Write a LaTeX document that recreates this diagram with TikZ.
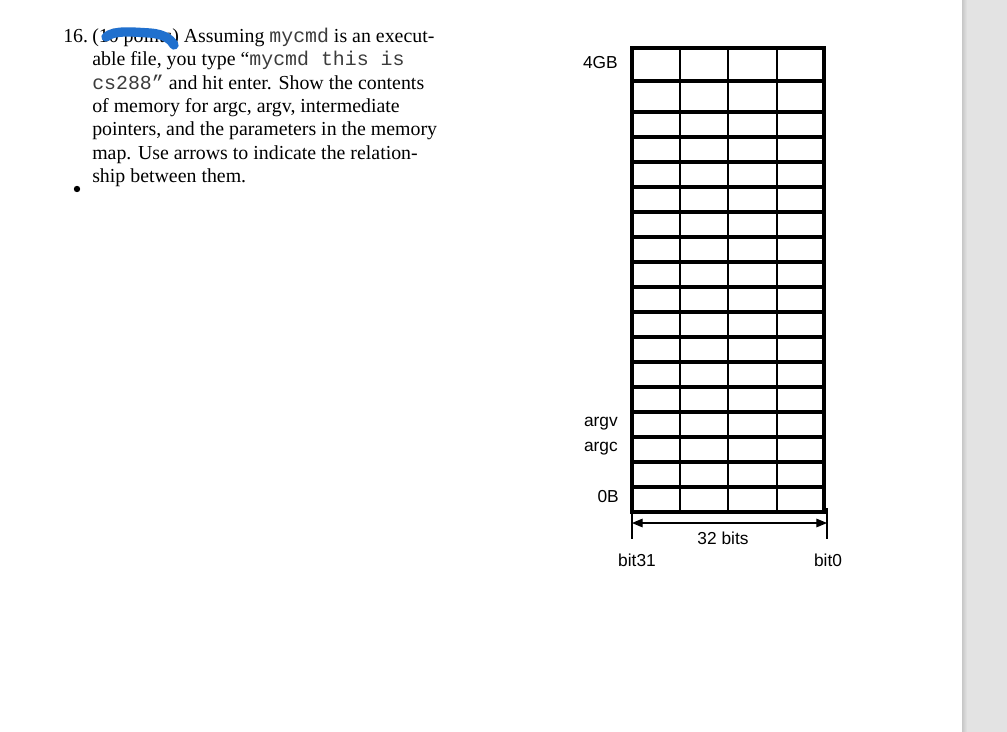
\documentclass[tikz,border=0pt]{standalone}
\usepackage{fontspec}
\setmainfont{Liberation Serif}
\setsansfont{Liberation Sans}
\setmonofont{Liberation Mono}
\usetikzlibrary{arrows.meta}
\definecolor{scribble}{RGB}{32,112,206}
\definecolor{codegray}{RGB}{60,60,60}

\begin{document}
\begin{tikzpicture}[x=0.75pt,y=-0.75pt,>={Triangle[length=8pt,width=6.5pt]},
                    map label/.style={font=\sffamily\fontsize{13}{15}\selectfont,inner sep=0pt},
                    row line/.style={line width=3pt},
                    col line/.style={line width=0.8pt}]
  \useasboundingbox (0,0) rectangle (1007,732);

  % page edge on the right
  \fill[black!11] (962,0) rectangle (1007,732);
  \shade[left color=black!22,right color=black!11] (962,0) rectangle (967,732);

  % the question (base of a multi-line node is its last line)
  \node[anchor=base west,inner sep=0pt,font=\fontsize{14.9}{17.5}\selectfont] (qnum) at (63,42.7) {16.};
  \node[anchor=base west,inner sep=0pt,align=left,font=\fontsize{14.9}{17.5}\selectfont] (question) at (92,182.5)
    {(10 points) Assuming \textcolor{codegray}{\texttt{mycmd}} is an execut-\\
     able file, you type “\textcolor{codegray}{\texttt{mycmd this is}}\\
     \textcolor{codegray}{\texttt{cs288”}} and hit enter. Show the contents\\
     of memory for argc, argv, intermediate\\
     pointers, and the parameters in the memory\\
     map. Use arrows to indicate the relation-\\
     ship between them.};
  \draw[scribble,line width=7pt,line cap=round]
    (106,37) .. controls (114,30) and (132,32) .. (150,33)
             .. controls (162,34) and (170,38) .. (174,45);
  \fill (77,189) circle (3.2);

  % memory map
  \foreach \y in {48,81,112,137,...,512}
    \draw[row line] (632,\y) -- (824,\y);
  \foreach \x in {680,728,777}
    \draw[col line] (\x,48) -- (\x,512);
  \draw[row line] (632,48) rectangle (824,512);

  \node[map label,anchor=east] (top) at (618,63) {4GB};
  \node[map label,anchor=east] (argv) at (618,424) {argv};
  \node[map label,anchor=east] (argc) at (618,449) {argc};
  \node[map label,anchor=east] (bottom) at (619,497) {0B};

  % width of a word
  \coordinate (msbtop) at (632,512);
  \coordinate (msb) at (632,539);
  \coordinate (lsbtop) at (827,508);
  \coordinate (lsb) at (827,539);
  \draw[line width=0.8pt] (msbtop) -- (msb);
  \draw[line width=0.8pt] (lsbtop) -- (lsb);
  \draw[<->,line width=0.8pt] (632,523) -- (827,523);
  \node[map label] (width) at (723,538) {32 bits};
  \node[map label] (bit31) at (637,560) {bit31};
  \node[map label] (bit0) at (828,560) {bit0};
\end{tikzpicture}
\end{document}
